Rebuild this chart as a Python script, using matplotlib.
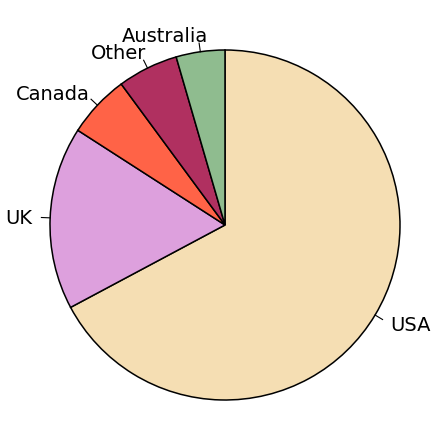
import numpy as np
import matplotlib
matplotlib.use("Agg")
import matplotlib.pyplot as plt

countries = ["USA", "UK", "Canada", "Other", "Australia"]
shares = [67.2, 16.9, 5.8, 5.6, 4.5]
colors = ["#F5DEB3", "#DDA0DD", "#FF6347", "#B03060", "#8FBC8F"]

FS = 14
PX_PER_UNIT = 175.0

fig = plt.figure(figsize=(4.4, 4.25), dpi=100)
ax = fig.add_axes([0, 0, 1, 1])
wedges, _ = ax.pie(shares, colors=colors, startangle=90, counterclock=False,
                   radius=1.0, wedgeprops=dict(edgecolor="black", linewidth=1.1))
ax.set_xlim(-225 / PX_PER_UNIT, 215 / PX_PER_UNIT)
ax.set_ylim(-200 / PX_PER_UNIT, 225 / PX_PER_UNIT)
ax.set_aspect("auto")
ax.axis("off")

renderer = fig.canvas.get_renderer()
cap = FS * 100 / 72 * 0.729 / PX_PER_UNIT
for w, lab in zip(wedges, countries):
    mid = np.deg2rad((w.theta1 + w.theta2) / 2)
    c, s = np.cos(mid), np.sin(mid)
    ax.plot([c, 1.05 * c], [s, 1.05 * s], color="black", lw=0.8)
    x, y = 1.1 * c, 1.1 * s - cap / 2
    if c < 0:
        t = ax.text(0, 0, lab, fontsize=FS, family="Liberation Sans")
        wpx = t.get_window_extent(renderer).width
        t.remove()
        x -= wpx / PX_PER_UNIT
    ax.text(x, y, lab, ha="left", va="baseline", fontsize=FS, family="DejaVu Sans")

fig.savefig("out.png", dpi=100)
